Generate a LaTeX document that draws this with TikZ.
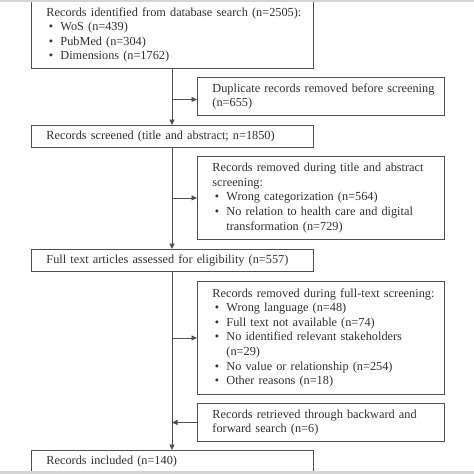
\documentclass[tikz,border=0pt]{standalone}
\usepackage{fontspec}
\setmainfont{Liberation Serif}
\usetikzlibrary{arrows.meta}
\definecolor{edge}{HTML}{505050}
\definecolor{ink}{HTML}{303030}
\definecolor{band}{HTML}{D4D4D4}
\newcommand{\bl}[1]{\mbox{\makebox[14pt][l]{\hspace{2.5pt}\textbullet}#1}}
\newcommand{\cl}[1]{\mbox{\hspace{14pt}#1}}
\begin{document}
\begin{tikzpicture}[x=1pt,y=1pt,
  box/.style={draw=edge, line width=0.9pt, anchor=north west, align=left,
    inner xsep=15pt, inner ysep=0pt, text=ink,
    font=\fontsize{12.3}{14.6}\selectfont},
  wide/.style={box, text width=252pt},
  side/.style={box, text width=217pt},
  arr/.style={draw=edge, line width=0.9pt, -{Triangle[length=5.5pt,width=5pt]}}]
\useasboundingbox (0,0) rectangle (474,-474);
\node[wide, minimum height=67pt] (b1) at (31,-1) {\mbox{Records identified from database search (n=2505):}\\
  \bl{WoS (n=439)}\\ \bl{PubMed (n=304)}\\ \bl{Dimensions (n=1762)}};
\node[side, minimum height=38pt] (b2) at (197,-77) {\mbox{Duplicate records removed before screening}\\ \mbox{(n=655)}};
\node[wide, minimum height=22pt] (b3) at (31,-125) {\mbox{Records screened (title and abstract; n=1850)}};
\node[side, minimum height=83pt] (b4) at (197,-156) {\mbox{Records removed during title and abstract}\\ \mbox{screening:}\\
  \bl{Wrong categorization (n=564)}\\ \bl{No relation to health care and digital}\\ \cl{transformation (n=729)}};
\node[wide, minimum height=22pt] (b5) at (31,-249) {\mbox{Full text articles assessed for eligibility (n=557)}};
\node[side, minimum height=113pt] (b6) at (197,-281) {\mbox{Records removed during full-text screening:}\\
  \bl{Wrong language (n=48)}\\ \bl{Full text not available (n=74)}\\ \bl{No identified relevant stakeholders}\\
  \cl{(n=29)}\\ \bl{No value or relationship (n=254)}\\ \bl{Other reasons (n=18)}};
\node[side, minimum height=38pt] (b7) at (197,-403) {\mbox{Records retrieved through backward and}\\ \mbox{forward search (n=6)}};
\node[wide, minimum height=22pt] (b8) at (31,-450) {\mbox{Records included (n=140)}};
\coordinate (t) at (172,0);
\draw[arr] (t |- b1.south) -- (t |- b3.north);
\draw[arr] ([yshift=-3pt]t |- b2.west) -- ([yshift=-3pt]b2.west);
\draw[arr] (t |- b3.south) -- (t |- b5.north);
\draw[arr] (t |- b4.west) -- (b4.west);
\draw[arr] (t |- b5.south) -- (t |- b8.north);
\draw[arr] (t |- b6.west) -- (b6.west);
\draw[arr] (b7.west) -- (t |- b7.west);
\fill[band] (0,0) rectangle (474,-2);
\fill[band] (0,-471) rectangle (474,-474);
\end{tikzpicture}
\end{document}
